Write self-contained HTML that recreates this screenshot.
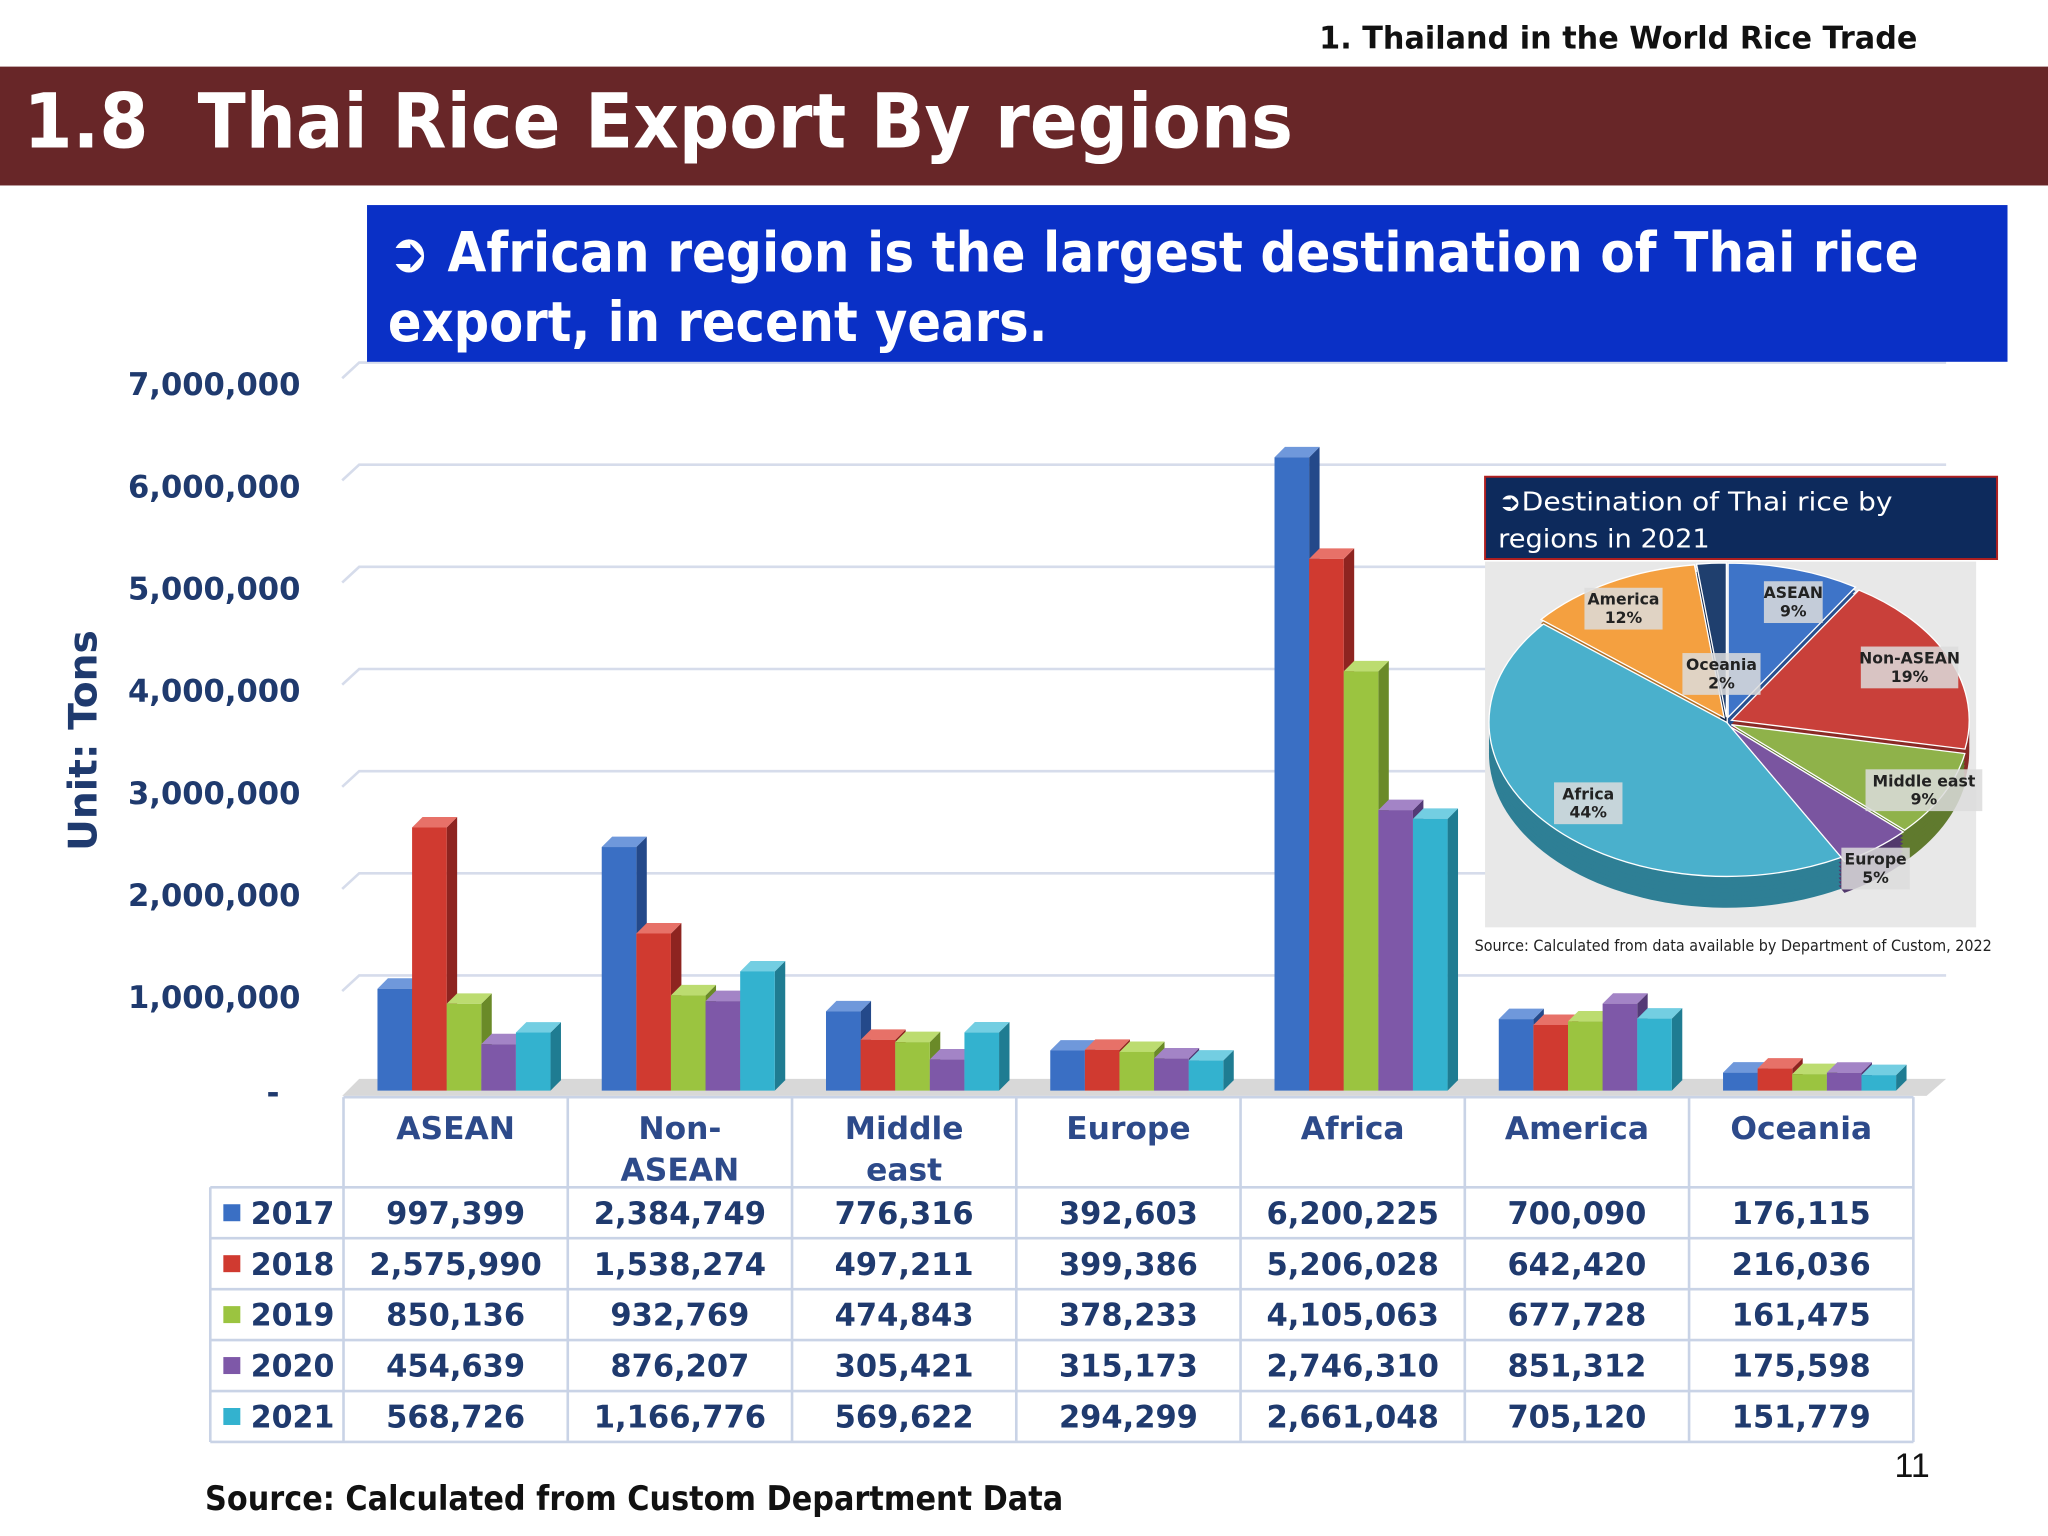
<!DOCTYPE html>
<html><head><meta charset="utf-8"><style>
html,body{margin:0;padding:0;background:#fff;}
svg{display:block;font-family:"DejaVu Sans","Liberation Sans",sans-serif;}
</style></head><body>
<svg id="page" width="2048" height="1536" viewBox="0 0 1568 1176" xmlns="http://www.w3.org/2000/svg">
<rect width="1568" height="1176" fill="#fff"/>
<text x="1468" y="37" text-anchor="end" font-size="24" font-weight="bold" fill="#111" textLength="458" lengthAdjust="spacingAndGlyphs">1. Thailand in the World Rice Trade</text>
<rect x="0" y="51" width="1568" height="91" fill="#682628"/>
<text x="18" y="113" font-size="58" font-weight="bold" fill="#fff" textLength="972" lengthAdjust="spacingAndGlyphs">1.8&#160;&#160;Thai Rice Export By regions</text>
<g id="chart"></g>
<rect x="281" y="157" width="1256" height="120" fill="#0a30c6"/>
<text x="297" y="208" font-size="42" font-weight="bold" fill="#fff" textLength="1172" lengthAdjust="spacingAndGlyphs">➲ African region is the largest destination of Thai rice</text>
<text x="297" y="261" font-size="42" font-weight="bold" fill="#fff" textLength="505" lengthAdjust="spacingAndGlyphs">export, in recent years.</text>
<text transform="translate(74,567) rotate(-90)" text-anchor="middle" font-size="30" font-weight="bold" fill="#1f3a6e">Unit: Tons</text>
<g id="ticks"></g>
<g id="table"></g>
<g id="inset">
 <rect x="1137" y="365" width="392" height="63" fill="#0d2a5c" stroke="#b02020" stroke-width="1.5"/>
 <text x="1147" y="391" font-size="20" fill="#fff" textLength="302" lengthAdjust="spacingAndGlyphs">➲Destination of Thai rice by</text>
 <text x="1147" y="419" font-size="20" fill="#fff" textLength="162" lengthAdjust="spacingAndGlyphs">regions in 2021</text>
 <rect x="1137" y="430" width="376" height="280" fill="#e8e8e8"/>
 <g id="pie"></g>
 <text x="1129" y="728" font-size="12" fill="#222" textLength="396" lengthAdjust="spacingAndGlyphs">Source: Calculated from data available by Department of Custom, 2022</text>
</g>
<text x="1464" y="1131" text-anchor="middle" font-size="26" font-family="Liberation Sans" fill="#111">11</text>
<text x="157" y="1156" font-size="26" font-weight="bold" fill="#111" textLength="657" lengthAdjust="spacingAndGlyphs">Source: Calculated from Custom Department Data</text>
</svg>
<script>
const categories=["ASEAN","Non-ASEAN","Middle east","Europe","Africa","America","Oceania"];
const years=["2017","2018","2019","2020","2021"];
const v2017=[997399,2384749,776316,392603,6200225,700090,176115];
const v2018=[2575990,1538274,497211,399386,5206028,642420,216036];
const v2019=[850136,932769,474843,378233,4105063,677728,161475];
const v2020=[454639,876207,305421,315173,2746310,851312,175598];
const v2021=[568726,1166776,569622,294299,2661048,705120,151779];
const yTicks=[0,1000000,2000000,3000000,4000000,5000000,6000000,7000000];
const yTickLabels=["-","1,000,000","2,000,000","3,000,000","4,000,000","5,000,000","6,000,000","7,000,000"];
const pieLabels=["ASEAN","Non-ASEAN","Middle east","Europe","Africa","America","Oceania"];
const piePercents=[9,19,9,5,44,12,2];

const NS="http://www.w3.org/2000/svg";
const series=[v2017,v2018,v2019,v2020,v2021];
const colors=["#3a6fc4","#d03a30","#9bc440","#7e58a8","#33b2cf"];
const sides=["#24498a","#8e2420","#6a8a28","#543a76","#1f7c92"];
const tops=["#6f98db","#e77168","#bcdc70","#a384c6","#73cee2"];
function el(tag,attrs,parent){const e=document.createElementNS(NS,tag);for(const k in attrs)e.setAttribute(k,attrs[k]);parent.appendChild(e);return e;}
const Y0=835, PX=78.2/1e6, D=8;
function y(v){return Y0-v*PX;}
const colX0=263, colW=171.7;
function xCol(i){return colX0+i*colW;}
const chart=document.getElementById('chart');
const ticks=document.getElementById('ticks');
yTicks.forEach((t,i)=>{
  const yy=y(t);
  if(t>0){
    const g=el('polyline',{points:`262,${yy+2} 275,${yy-10} 1490,${yy-10}`,fill:'none',stroke:'#d6dceb','stroke-width':2},chart);
    
    
  }
  const attrs={x:t===0?214:230,y:yy+(t===0?10:15),'text-anchor':'end','font-size':24,'font-weight':'bold',fill:'#1f3a6e'};
  if(t>0){attrs.textLength=132;attrs.lengthAdjust='spacingAndGlyphs';}
  const tx=el('text',attrs,ticks);
  tx.textContent=yTickLabels[i];
  
  
});
const floor=el('polygon',{points:`262,${Y0+4} 1475,${Y0+4} 1490,${Y0-9} 275,${Y0-9}`,fill:'#d8d8d8'},chart);


const bw=26.5;
categories.forEach((c,ci)=>{
  series.forEach((s,si)=>{
    const x=xCol(ci)+26+si*bw, yt=y(s[ci]);
    const g=el('g',{},chart);
    
    
    el('polygon',{points:`${x+bw},${yt} ${x+bw+D},${yt-D} ${x+bw+D},${Y0-D} ${x+bw},${Y0}`,fill:sides[si]},g);
    el('polygon',{points:`${x},${yt} ${x+D},${yt-D} ${x+bw+D},${yt-D} ${x+bw},${yt}`,fill:tops[si]},g);
    el('rect',{x:x,y:yt,width:bw,height:Y0-yt,fill:colors[si]},g);
  });
});
const tb=document.getElementById('table');
const bc='#c9d3e6';
const rowY=[840,909,948,987,1026,1065,1104];
el('line',{x1:263,y1:840,x2:1465,y2:840,stroke:bc,'stroke-width':2},tb);
for(let r=1;r<rowY.length;r++) el('line',{x1:161,y1:rowY[r],x2:1465,y2:rowY[r],stroke:bc,'stroke-width':2},tb);
el('line',{x1:161,y1:909,x2:161,y2:1104,stroke:bc,'stroke-width':2},tb);
for(let c=0;c<=7;c++) el('line',{x1:xCol(c),y1:840,x2:xCol(c),y2:1104,stroke:bc,'stroke-width':2},tb);
categories.forEach((c,ci)=>{
  const cx=xCol(ci)+colW/2;
  const lines=c==="Non-ASEAN"?["Non-","ASEAN"]:c==="Middle east"?["Middle","east"]:[c];
  lines.forEach((ln,li)=>{
    const t=el('text',{x:cx,y:872+li*32,'text-anchor':'middle','font-size':24,'font-weight':'bold',fill:'#2d4a8a'},tb);
    t.textContent=ln;
    
    
  });
});
series.forEach((s,si)=>{
  const ry=rowY[si+1]+28;
  const sw=el('rect',{x:171,y:ry-15,width:13,height:13,fill:colors[si]},tb);
  
  
  const yl=el('text',{x:192,y:ry,'font-size':24,'font-weight':'bold',fill:'#1f3a6e',textLength:64,lengthAdjust:'spacingAndGlyphs'},tb);
  yl.textContent=years[si];
  
  
  s.forEach((v,ci)=>{
    const str=v.toLocaleString('en-US');
    const t=el('text',{x:xCol(ci)+colW/2,y:ry,'text-anchor':'middle','font-size':24,'font-weight':'bold',fill:'#1f3a6e'},tb);
    if(str.length>=9){t.setAttribute('textLength',132);t.setAttribute('lengthAdjust','spacingAndGlyphs');}
    else{t.setAttribute('textLength',str.length*15.2);t.setAttribute('lengthAdjust','spacingAndGlyphs');}
    t.textContent=str;
    
    
  });
});
const pie=document.getElementById('pie');
const pcol=["#3e74c8","#c9403a","#8fb24a","#7a55a0","#4ab0cc","#f4a040","#1f3f6e"];
const pside=["#28508f","#8a2a26","#607a2e","#52396c","#2e7f95","#b07028","#10264a"];
const cx=1322,cy=553,rx=182,ry=118,depth=24;
const total=piePercents.reduce((a,b)=>a+b,0);
let a0=-Math.PI/2;
const slices=piePercents.map((p,i)=>{const a1=a0+p/total*2*Math.PI;const s={i,a0,a1};a0=a1;return s;});
function pt(a,ox,oy,dy){return [cx+ox+rx*Math.cos(a),cy+oy+ry*Math.sin(a)+dy];}
function path(s,dy){
  const mid=(s.a0+s.a1)/2, ex=s.i===4?0:4, ox=ex*Math.cos(mid), oy=ex*Math.sin(mid);
  const p0=pt(s.a0,ox,oy,dy), p1=pt(s.a1,ox,oy,dy);
  const large=(s.a1-s.a0)>Math.PI?1:0;
  return `M${cx+ox},${cy+oy+dy} L${p0[0]},${p0[1]} A${rx},${ry} 0 ${large} 1 ${p1[0]},${p1[1]} Z`;
}
slices.forEach(s=>{for(let d=depth;d>0;d-=3){const e=el('path',{d:path(s,d),fill:pside[s.i]},pie);}});
slices.forEach(s=>{
  const e=el('path',{d:path(s,0),fill:pcol[s.i],stroke:'#fff','stroke-width':1},pie);
  
  
});
const labelPos=[[1373,459],[1462,509],[1473,603],[1436,663],[1216,613],[1243,464],[1318,514]];
pieLabels.forEach((l,i)=>{
  const [lx,ly]=labelPos[i];
  const w=Math.max(l.length*7.4,30)+8;
  const g=el('g',{},pie);
  
  
  el('rect',{x:lx-w/2,y:ly-14,width:w,height:32,fill:'#dcdcdc',opacity:0.85},g);
  const t1=el('text',{x:lx,y:ly-1,'text-anchor':'middle','font-size':12,'font-weight':'bold',fill:'#222'},g);t1.textContent=l;
  const t2=el('text',{x:lx,y:ly+13,'text-anchor':'middle','font-size':12,'font-weight':'bold',fill:'#222'},g);t2.textContent=piePercents[i]+'%';
});
</script>
</body></html>
